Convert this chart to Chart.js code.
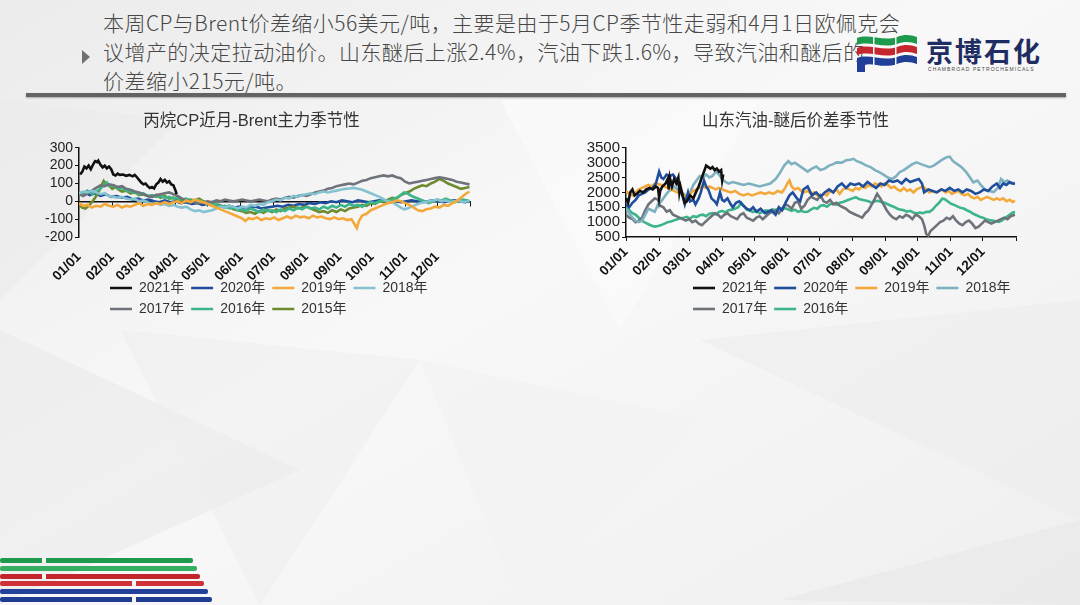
<!DOCTYPE html>
<html><head><meta charset="utf-8">
<script src="https://cdn.jsdelivr.net/npm/chart.js@4.4.0/dist/chart.umd.min.js"></script>
<style>
html,body{margin:0;padding:0;}
body{width:1080px;height:605px;position:relative;overflow:hidden;background:#f3f3f3;font-family:"Noto Sans CJK SC",sans-serif;}
#bg{position:absolute;left:0;top:0;}
.ln{position:absolute;left:103px;font-size:21px;line-height:29px;color:#474747;white-space:nowrap;font-weight:300;letter-spacing:0.45px;}
#tri{position:absolute;left:82px;top:50px;width:0;height:0;border-top:7px solid transparent;border-bottom:7px solid transparent;border-left:8px solid #6f6f6f;}
#bar{position:absolute;left:26px;top:93px;width:1040px;height:4px;background:#636363;box-shadow:0 1px 2px #aaa;}
canvas{position:absolute;}
#logo{position:absolute;left:853px;top:32px;}
#lt{position:absolute;left:926px;top:31px;font-size:27px;font-weight:bold;color:#1f2d62;letter-spacing:2px;font-family:"Noto Sans CJK SC",sans-serif;line-height:40px;}
#ls{position:absolute;left:928px;top:66px;font-size:5px;color:#444;letter-spacing:1.1px;font-family:"Liberation Sans",sans-serif;}
</style></head>
<body>
<svg id="bg" width="1080" height="605">
<defs>
<linearGradient id="g" x1="0" y1="0" x2="1" y2="1">
<stop offset="0" stop-color="#ebebeb"/><stop offset="0.45" stop-color="#f8f8f8"/><stop offset="1" stop-color="#efefef"/>
</linearGradient>
</defs>
<rect width="1080" height="605" fill="url(#g)"/>
<polygon points="0,330 300,470 0,605" fill="#e8e8e8" opacity="0.5"/>
<polygon points="120,330 420,360 260,605" fill="#eeeeee" opacity="0.5"/>
<polygon points="420,360 700,420 520,605" fill="#f2f2f2" opacity="0.6"/>
<polygon points="700,340 1080,300 1080,520" fill="#ececec" opacity="0.45"/>
<polygon points="780,600 1080,520 1080,605" fill="#e6e6e6" opacity="0.5"/>
<polygon points="0,100 180,120 0,300" fill="#e9e9e9" opacity="0.45"/>
<polygon points="500,100 760,100 620,330" fill="#fbfbfb" opacity="0.6"/>
<g>
<rect x="0" y="558" width="193" height="5" rx="2" fill="#1d9a4b"/>
<rect x="42" y="558" width="4" height="5" fill="#f4f4f4"/>
<rect x="0" y="566" width="197" height="5" rx="2" fill="#35ad62"/>
<rect x="0" y="574" width="200" height="5" rx="2" fill="#c3252d"/>
<rect x="42" y="574" width="4" height="5" fill="#f4f4f4"/>
<rect x="0" y="581" width="204" height="5" rx="2" fill="#cf3138"/>
<rect x="132" y="581" width="4" height="5" fill="#f4f4f4"/>
<rect x="0" y="589" width="208" height="5" rx="2" fill="#23409a"/>
<rect x="0" y="597" width="212" height="5" rx="2" fill="#1f3c92"/>
<rect x="132" y="597" width="4" height="5" fill="#f4f4f4"/>
</g>
</svg>

<div class="ln" style="top:8px">本周CP与Brent价差缩小56美元/吨，主要是由于5月CP季节性走弱和4月1日欧佩克会</div>
<div class="ln" style="top:37px">议增产的决定拉动油价。山东醚后上涨2.4%，汽油下跌1.6%，导致汽油和醚后的</div>
<div class="ln" style="top:66px">价差缩小215元/吨。</div>
<div id="tri"></div>
<div id="bar"></div>

<svg id="logo" width="68" height="42">
<path d="M4,6 C16,1 30,10 44,5 C52,2 58,3 64,5 L64,12 C58,10 52,9 44,12 C30,17 16,8 4,13 Z" fill="#1e9a4c"/>
<path d="M4,16 C16,11 30,20 44,15 C52,12 58,13 64,15 L64,22 C58,20 52,19 44,22 C30,27 16,18 4,23 Z" fill="#c6262e"/>
<path d="M4,26 C16,21 30,30 44,25 C52,22 58,23 64,25 L64,32 C58,30 52,29 44,32 C30,37 18,30 12,33 L12,40 L4,40 Z" fill="#213f98"/>
<rect x="20" y="2" width="1.5" height="36" fill="#f4f4f4"/>
<rect x="42" y="2" width="1.5" height="36" fill="#f4f4f4"/>
</svg>
<div id="lt">京博石化</div>
<div id="ls">CHAMBROAD PETROCHEMICALS</div>

<canvas id="c1" width="460" height="224" style="left:30px;top:108px"></canvas>
<canvas id="c2" width="460" height="224" style="left:575px;top:108px"></canvas>

<script>
// ---------- shared axis labels ----------
const monthDays = [0,31,59,90,120,151,181,212,243,273,304,334,365];
const monthLabels = ['01/01','02/01','03/01','04/01','05/01','06/01','07/01','08/01','09/01','10/01','11/01','12/01',''];
const legendNames1 = ['2021年','2020年','2019年','2018年','2017年','2016年','2015年'];
const legendNames2 = ['2021年','2020年','2019年','2018年','2017年','2016年'];
const yTicks1 = {min:-200, max:300, step:100};
const yTicks2 = {min:500, max:3500, step:500};

// ---------- chart 1: 丙烷CP近月-Brent主力季节性 ([day of year, USD/t]) ----------
const L2021 = [[1,150],[3,165],[5,195],[7,185],[9,200],[11,180],[13,205],[15,225],[17,220],[18,228],[20,205],[22,190],[24,200],[26,185],[28,195],[30,180],[32,150],[34,145],[36,155],[38,148],[41,150],[44,143],[47,148],[50,140],[52,148],[54,135],[56,120],[58,105],[60,95],[62,100],[64,85],[66,75],[68,80],[70,72],[72,95],[74,105],[76,125],[78,110],[80,120],[82,105],[84,112],[86,95],[88,90],[90,60],[91,40]];
const L2020 = [[0,40],[5,50],[10,35],[15,45],[20,30],[25,40],[30,25],[35,30],[40,20],[45,25],[50,10],[55,15],[60,5],[65,10],[70,0],[75,-5],[80,5],[85,-5],[90,0],[95,-10],[100,-5],[105,-15],[110,-10],[115,-20],[120,-15],[125,-25],[130,-20],[135,-30],[140,-25],[145,-35],[150,-30],[155,-40],[160,-35],[165,-30],[170,-40],[175,-35],[180,-30],[185,-25],[190,-30],[195,-20],[200,-25],[205,-15],[210,-20],[215,-10],[220,-15],[225,-5],[230,-10],[235,0],[240,-5],[245,5],[250,0],[255,-5],[260,5],[265,0],[270,-5],[275,0],[280,5],[285,0],[290,5],[295,0],[300,-5],[305,0],[310,5],[315,0],[320,-5],[325,0],[330,5],[335,0],[340,-5],[345,0],[350,5],[355,0],[360,-5],[364,0]];
const L2019 = [[0,-10],[4,-25],[8,-20],[12,-35],[16,-25],[20,-30],[24,-15],[28,-25],[32,-30],[36,-20],[40,-35],[44,-25],[48,-30],[52,-20],[56,-10],[60,-25],[64,-15],[68,-20],[72,-10],[76,-15],[80,-5],[84,-15],[88,-5],[92,0],[96,-10],[100,5],[104,-5],[108,10],[112,0],[116,-5],[120,-15],[124,-25],[128,-35],[132,-45],[136,-55],[140,-65],[144,-75],[148,-85],[152,-95],[155,-110],[158,-95],[162,-100],[166,-90],[170,-105],[174,-95],[178,-100],[182,-90],[186,-105],[190,-95],[194,-85],[198,-95],[202,-80],[206,-90],[210,-85],[214,-95],[218,-80],[222,-90],[226,-85],[230,-95],[234,-100],[238,-90],[242,-100],[246,-95],[250,-105],[254,-100],[257,-130],[259,-150],[261,-110],[264,-80],[268,-70],[272,-50],[276,-40],[280,-30],[284,-20],[288,-10],[292,-5],[296,5],[300,0],[304,-10],[308,-20],[312,-35],[316,-50],[320,-55],[324,-45],[328,-40],[332,-30],[336,-35],[340,-20],[344,-25],[348,-10],[352,0],[356,20],[360,40],[364,55]];
const L2018 = [[0,45],[4,55],[8,50],[12,60],[16,50],[20,40],[24,45],[28,30],[32,25],[36,20],[40,25],[44,15],[48,10],[52,15],[56,0],[60,5],[64,-5],[68,-15],[72,-10],[76,-20],[80,-15],[84,-25],[88,-20],[92,-30],[96,-35],[100,-30],[104,-45],[108,-55],[112,-50],[116,-60],[120,-55],[124,-50],[128,-40],[132,-30],[136,-35],[140,-25],[144,-30],[148,-40],[152,-30],[156,-35],[160,-20],[164,-25],[168,-15],[172,-20],[176,-5],[180,0],[184,10],[188,5],[192,20],[196,15],[200,30],[204,25],[208,35],[212,40],[216,45],[220,40],[224,50],[228,55],[232,50],[236,55],[240,60],[244,65],[248,70],[252,72],[256,75],[260,70],[264,65],[268,55],[272,45],[276,35],[280,25],[284,12],[288,0],[292,-5],[296,-20],[300,-35],[303,-45],[306,-40],[310,-30],[314,-20],[318,-10],[322,-5],[326,0],[330,5],[334,10],[338,0],[342,5],[346,-5],[350,0],[354,5],[358,-5],[362,0],[364,5]];
const L2017 = [[0,40],[4,30],[8,45],[12,60],[16,75],[20,90],[24,85],[28,95],[32,90],[36,80],[40,85],[44,70],[48,65],[52,55],[56,50],[60,40],[64,30],[68,25],[72,35],[76,40],[80,45],[84,50],[88,40],[92,30],[96,15],[100,5],[104,0],[108,-5],[112,-10],[116,-5],[120,0],[124,-5],[128,5],[132,0],[136,10],[140,5],[144,0],[148,5],[152,10],[156,5],[160,0],[164,5],[168,10],[172,5],[176,0],[180,10],[184,15],[188,10],[192,20],[196,25],[200,20],[204,30],[208,35],[212,30],[216,40],[220,50],[224,55],[228,60],[232,70],[236,75],[240,85],[244,90],[248,95],[252,100],[256,95],[260,105],[264,115],[268,120],[272,130],[276,135],[280,140],[284,145],[288,140],[292,145],[296,135],[300,130],[304,110],[308,100],[312,105],[316,110],[320,115],[324,120],[328,125],[332,130],[336,135],[340,130],[344,125],[348,120],[352,110],[356,105],[360,100],[364,95]];
const L2016 = [[0,50],[4,45],[8,60],[12,40],[16,55],[20,70],[24,95],[26,105],[28,85],[32,90],[36,70],[40,75],[44,60],[48,55],[52,50],[56,40],[60,45],[64,30],[68,35],[72,25],[76,30],[80,20],[84,25],[88,15],[92,20],[96,10],[100,15],[104,5],[108,0],[112,5],[116,-5],[120,-10],[124,-20],[128,-15],[132,-30],[136,-25],[140,-40],[144,-35],[148,-50],[152,-45],[156,-55],[160,-40],[164,-50],[168,-60],[172,-45],[176,-55],[180,-50],[184,-60],[188,-45],[192,-55],[196,-40],[200,-50],[204,-35],[208,-45],[212,-30],[216,-40],[220,-35],[224,-45],[228,-30],[232,-40],[236,-25],[240,-35],[244,-20],[248,-30],[252,-15],[256,-25],[260,-20],[264,-30],[268,-15],[272,-5],[276,-10],[280,0],[284,5],[288,0],[292,10],[296,20],[300,35],[303,50],[306,45],[310,30],[314,20],[318,10],[322,0],[326,-10],[330,0],[334,10],[338,5],[342,15],[346,5],[350,-5],[354,0],[358,10],[362,5],[364,0]];
const L2015 = [[0,-20],[3,-35],[6,-40],[9,-25],[12,-5],[15,20],[18,50],[21,90],[23,115],[25,100],[28,90],[31,70],[34,80],[37,65],[40,55],[44,60],[48,45],[52,50],[56,35],[60,40],[64,30],[68,25],[72,35],[76,20],[80,30],[84,15],[88,20],[92,5],[96,10],[100,0],[104,10],[108,5],[112,15],[116,0],[120,-10],[124,-5],[128,-20],[132,-25],[136,-35],[140,-30],[144,-45],[148,-50],[152,-55],[156,-65],[160,-60],[164,-70],[168,-55],[172,-65],[176,-50],[180,-60],[184,-45],[188,-55],[192,-40],[196,-35],[200,-30],[204,-40],[208,-35],[212,-30],[216,-40],[220,-50],[224,-60],[228,-55],[232,-65],[236,-50],[240,-60],[244,-45],[248,-55],[252,-40],[256,-35],[260,-30],[264,-20],[268,-25],[272,-10],[276,-15],[280,0],[284,-5],[288,10],[292,20],[296,15],[300,35],[304,45],[308,55],[312,70],[316,80],[320,90],[324,85],[328,100],[332,110],[336,125],[340,115],[344,100],[348,90],[352,80],[356,70],[360,75],[364,80]];

// ---------- chart 2: 山东汽油-醚后价差季节性 ([day of year, CNY/t]) ----------
const R2021 = [[0,1800],[2,1650],[4,2000],[6,2100],[8,1900],[10,1950],[13,2050],[16,2000],[19,2100],[22,2150],[25,2100],[28,2200],[30,2150],[31,1800],[32,2050],[34,2200],[37,2300],[39,2450],[40,2100],[41,2500],[43,2200],[45,2450],[47,2300],[49,2500],[50,2000],[51,2200],[53,1900],[55,1650],[57,1700],[60,1900],[63,1800],[66,2050],[68,2200],[70,2400],[72,2600],[74,2800],[75,2900],[77,2850],[79,2800],[81,2850],[83,2750],[85,2800],[87,2700],[89,2750],[90,2400],[91,2600]];
const R2020 = [[0,1600],[3,1500],[6,1650],[9,1750],[12,1900],[15,1950],[18,2000],[21,2100],[25,2150],[28,2300],[31,2700],[33,2500],[35,2450],[38,2600],[41,2550],[44,2600],[47,2450],[50,2200],[52,2000],[55,1600],[58,2000],[60,1700],[63,1750],[65,1600],[68,1800],[70,2000],[73,2400],[75,2200],[77,2100],[80,1800],[83,1700],[85,1600],[88,2000],[90,1750],[92,1700],[95,1800],[98,1600],[100,1500],[103,1650],[106,1700],[110,1550],[113,1450],[116,1400],[119,1500],[122,1350],[126,1450],[130,1300],[133,1350],[136,1400],[140,1250],[143,1500],[146,1400],[150,1700],[153,1900],[156,2000],[160,1800],[163,1700],[166,2100],[170,2200],[174,1900],[178,2000],[182,1850],[186,2000],[190,2100],[194,2000],[198,2200],[202,2300],[206,2150],[210,2300],[214,2250],[218,2300],[222,2200],[226,2350],[230,2250],[234,2150],[238,2300],[242,2250],[246,2400],[250,2350],[254,2400],[258,2300],[262,2450],[266,2350],[270,2400],[274,2450],[277,2300],[279,2000],[283,2100],[287,2050],[291,2000],[295,2100],[299,2050],[303,2150],[307,2050],[311,2100],[315,2000],[319,2100],[323,2050],[327,1950],[331,2000],[335,2100],[339,2050],[343,2200],[347,2300],[350,2150],[353,2300],[356,2250],[359,2350],[362,2300],[364,2280]];
const R2019 = [[0,2050],[3,1950],[6,1900],[9,2000],[12,2100],[15,2150],[18,2200],[21,2250],[24,2200],[27,2300],[30,2280],[33,2250],[36,2200],[39,2150],[42,2100],[45,2050],[48,2000],[51,1950],[54,1900],[57,1850],[60,1950],[63,2050],[66,2100],[69,2150],[72,2200],[75,2150],[78,2200],[81,2150],[84,2100],[87,2150],[90,2100],[94,2050],[98,2000],[102,2050],[106,1950],[110,1900],[114,1950],[118,1900],[122,1950],[126,2000],[130,1950],[134,2000],[138,1950],[142,2050],[146,2000],[149,2150],[151,2300],[153,2400],[155,2200],[158,2100],[161,2150],[164,2050],[167,2000],[170,2050],[173,1950],[176,2000],[179,1900],[182,1850],[185,1950],[188,1900],[191,2050],[194,2000],[197,2100],[200,1950],[203,2100],[206,2150],[209,2100],[212,2050],[215,2150],[218,2100],[221,2200],[224,2150],[227,2250],[230,2200],[233,2300],[236,2250],[239,2200],[242,2300],[245,2250],[248,2150],[251,2200],[254,2100],[257,2050],[260,2150],[263,2050],[266,2100],[269,2000],[272,2100],[275,2150],[278,2200],[281,2100],[284,2000],[287,2050],[290,2000],[293,2050],[296,2100],[299,2000],[302,2050],[305,1950],[308,2000],[311,2050],[314,1950],[317,1900],[320,1950],[323,1850],[326,1800],[329,1850],[332,1750],[335,1800],[338,1850],[341,1800],[344,1750],[347,1800],[350,1750],[353,1800],[356,1700],[359,1750],[362,1680],[364,1720]];
const R2018 = [[0,1450],[3,1300],[6,1150],[9,1050],[12,1000],[15,1050],[18,1250],[21,1450],[24,1400],[27,1350],[30,1600],[33,1700],[36,1850],[39,2000],[42,2100],[45,2200],[48,2100],[51,2050],[54,1950],[57,1850],[60,2000],[63,2250],[66,2400],[69,2550],[72,2500],[75,2600],[78,2500],[81,2550],[84,2700],[87,2600],[90,2450],[93,2350],[96,2300],[100,2350],[105,2300],[110,2250],[115,2300],[120,2250],[125,2200],[130,2250],[135,2300],[140,2450],[144,2650],[148,2900],[152,3050],[155,2950],[158,3000],[162,2900],[166,2800],[170,2700],[174,2800],[178,2870],[182,2750],[186,2800],[190,2900],[194,2950],[197,3010],[202,3000],[206,3080],[210,3100],[213,3130],[216,3050],[220,3000],[225,2900],[229,2850],[233,2750],[237,2680],[241,2600],[245,2500],[249,2450],[253,2550],[256,2680],[260,2750],[264,2850],[268,2950],[272,3010],[276,2950],[280,2900],[284,2850],[288,2900],[292,3000],[296,3100],[300,3180],[303,3200],[306,3050],[310,2950],[314,2850],[318,2700],[321,2550],[325,2340],[329,2400],[332,2250],[336,2100],[340,2050],[344,2010],[348,2150],[351,2450],[354,2350],[357,2400],[360,2300],[364,2320]];
const R2017 = [[0,1250],[3,1150],[6,1100],[9,1000],[12,1050],[15,1150],[18,1400],[21,1600],[24,1700],[27,1800],[30,1750],[32,1550],[35,1500],[38,1350],[41,1400],[44,1250],[47,1200],[50,1150],[53,1100],[56,1050],[59,1100],[62,1000],[65,1050],[68,950],[71,900],[74,1000],[77,1100],[80,1200],[83,1300],[86,1250],[89,1150],[92,1250],[95,1300],[98,1200],[101,1150],[104,1100],[107,1250],[110,1300],[113,1150],[116,1100],[119,1050],[122,1150],[125,1200],[128,1100],[131,1200],[134,1300],[137,1350],[140,1400],[143,1300],[146,1450],[149,1600],[152,1550],[155,1450],[158,1650],[161,1700],[164,1450],[167,1550],[170,1750],[173,1850],[176,1800],[179,1750],[182,1900],[185,1700],[188,1650],[191,1750],[194,1600],[197,1650],[200,1550],[203,1500],[206,1450],[209,1350],[212,1300],[215,1250],[218,1200],[221,1150],[224,1300],[227,1400],[230,1600],[233,1800],[235,1950],[238,1800],[241,1600],[244,1400],[247,1250],[250,1150],[253,1100],[256,1200],[259,1150],[262,1250],[265,1200],[268,1100],[271,1250],[274,1200],[277,1100],[279,900],[281,600],[283,550],[285,700],[288,800],[291,900],[294,1000],[297,1050],[300,1150],[303,1100],[306,1200],[309,1050],[312,950],[315,900],[318,1000],[321,1050],[324,950],[327,800],[330,850],[333,950],[336,1050],[339,1000],[342,950],[345,1000],[348,1050],[351,1100],[354,1150],[357,1100],[360,1200],[364,1250]];
const R2016 = [[0,1500],[3,1400],[6,1300],[9,1250],[12,1150],[15,1050],[18,980],[21,930],[24,880],[27,850],[30,870],[33,900],[36,950],[39,1000],[42,1020],[45,1060],[48,1100],[51,1130],[54,1150],[57,1180],[60,1120],[63,1200],[66,1170],[69,1230],[72,1250],[75,1200],[78,1280],[81,1300],[84,1260],[87,1340],[90,1380],[93,1330],[96,1400],[99,1420],[102,1450],[105,1500],[108,1650],[110,1550],[113,1420],[116,1380],[119,1340],[122,1380],[125,1300],[128,1350],[131,1400],[134,1380],[137,1430],[140,1400],[143,1460],[146,1420],[149,1470],[152,1420],[155,1380],[158,1420],[161,1350],[164,1380],[167,1340],[170,1350],[173,1420],[176,1480],[179,1450],[182,1550],[185,1570],[188,1520],[191,1600],[194,1630],[197,1580],[200,1650],[203,1680],[206,1720],[209,1760],[212,1800],[215,1840],[218,1780],[221,1750],[224,1730],[227,1700],[230,1650],[233,1700],[236,1720],[239,1680],[242,1650],[245,1600],[248,1550],[251,1510],[254,1450],[257,1420],[260,1400],[263,1350],[266,1380],[269,1320],[272,1290],[275,1320],[278,1300],[281,1350],[284,1345],[287,1420],[290,1550],[293,1650],[296,1790],[298,1780],[301,1700],[304,1620],[307,1580],[310,1530],[313,1480],[316,1455],[319,1400],[322,1350],[325,1280],[328,1233],[331,1180],[334,1150],[337,1100],[340,1070],[343,1050],[346,1030],[349,1010],[352,1060],[355,1150],[358,1220],[361,1300],[364,1350]];

// ---------- styles ----------
const COL = {'2021年':'#111111','2020年':'#1f4e9c','2019年':'#f2a93a','2018年':'#84c2d1','2017年':'#6e727b','2016年':'#3db58b','2015年':'#6e8a2e'};
const FONT = "'Liberation Sans', 'Noto Sans CJK SC', sans-serif";
const INK = '#111';

function monthTicks(scale){ scale.ticks = monthDays.map(v => ({value: v})); }
function monthLabel(v){ const i = monthDays.indexOf(v); return i >= 0 ? monthLabels[i] : ''; }

const legendPlace = {
  id: 'legendPlace',
  afterInit(chart, args, opts) {
    const lg = chart.legend;
    if (!lg || lg._capped) return;
    const orig = lg.update.bind(lg);
    lg.update = (w, h, m) => orig(Math.min(w, opts.wrapWidth || w), h, m);
    lg._capped = true;
  },
  afterLayout(chart, args, opts) {
    const lg = chart.legend;
    if (lg) {
      lg.left += opts.dx || 0; lg.right += opts.dx || 0;
      lg.top += opts.dy || 0; lg.bottom += opts.dy || 0;
    }
  }
};

function ds(label, data, color, order) {
  return {label, data, borderColor: color, backgroundColor: color, borderWidth: 2.6,
          pointRadius: 0, tension: 0, fill: false, order: order || 0};
}

function legendOpts() {
  return {
    position: 'bottom', align: 'start', fullSize: false,
    labels: {usePointStyle: true, pointStyle: 'line', pointStyleWidth: 22, padding: 7,
             color: '#333', font: {size: 14, family: FONT},
             sort: (a, b) => a.datasetIndex - b.datasetIndex}
  };
}

function xBottom(showBorder, fontSize) {
  return {
    type: 'linear', min: 0, max: 365, afterBuildTicks: monthTicks,
    afterFit: s => { s.height = 43; },
    border: {display: showBorder, color: INK, width: 1.5},
    grid: {display: showBorder, drawOnChartArea: false, drawTicks: true, tickLength: 4, color: INK},
    ticks: {autoSkip: false, maxRotation: 45, minRotation: 45, padding: showBorder ? 3 : 8,
            color: '#111', font: {size: fontSize, weight: 'bold', family: FONT},
            callback: v => monthLabel(v)}
  };
}

function yAxis(t, w, fontSize) {
  return {
    min: t.min, max: t.max, afterFit: s => { s.width = w; },
    border: {display: true, color: INK, width: 1.5},
    grid: {display: true, drawOnChartArea: false, drawTicks: true, tickLength: 4, color: INK},
    ticks: {stepSize: t.step, autoSkip: false, padding: 2, color: '#222',
            font: {size: fontSize, family: FONT}, callback: v => String(v)}
  };
}

const titleFont = {size: 16.5, family: FONT, weight: 'normal'};

// chart 1
const series1 = [L2021, L2020, L2019, L2018, L2017, L2016, L2015];
new Chart(document.getElementById('c1'), {
  type: 'line',
  data: {datasets: series1.map((d, i) => ds(legendNames1[i], d, COL[legendNames1[i]], i === 1 ? 5 : 0))},
  options: {
    responsive: false, animation: false, devicePixelRatio: 1, events: [],
    layout: {padding: {left: 0, right: 17, top: 0, bottom: 0}},
    scales: {
      x: xBottom(false, 13.5),
      x2: {type: 'linear', position: {y: 0}, min: 0, max: 365, afterBuildTicks: monthTicks,
           ticks: {display: false},
           grid: {display: true, drawOnChartArea: false, drawTicks: true, tickLength: 4, color: INK},
           border: {display: true, color: INK, width: 1.5}},
      y: yAxis(yTicks1, 49, 14)
    },
    plugins: {
      title: {display: true, text: '丙烷CP近月-Brent主力季节性', color: '#333', font: titleFont, padding: {top: 4, bottom: 16}},
      legend: legendOpts(),
      legendPlace: {wrapWidth: 390, dx: 24, dy: -6},
      tooltip: {enabled: false}
    }
  },
  plugins: [legendPlace]
});

// chart 2
const series2 = [R2021, R2020, R2019, R2018, R2017, R2016];
const COL2 = Object.assign({}, COL, {'2018年': '#7eb1bf'});
new Chart(document.getElementById('c2'), {
  type: 'line',
  data: {datasets: series2.map((d, i) => ds(legendNames2[i], d, COL2[legendNames2[i]]))},
  options: {
    responsive: false, animation: false, devicePixelRatio: 1, events: [],
    layout: {padding: {left: 0, right: 19, top: 0, bottom: 0}},
    scales: {
      x: xBottom(true, 13.5),
      y: yAxis(yTicks2, 51, 15)
    },
    plugins: {
      title: {display: true, text: '山东汽油-醚后价差季节性', color: '#333', font: titleFont, padding: {top: 4, bottom: 16}},
      legend: legendOpts(),
      legendPlace: {wrapWidth: 300, dx: 60, dy: -6},
      tooltip: {enabled: false}
    }
  },
  plugins: [legendPlace]
});
</script>
</body></html>
